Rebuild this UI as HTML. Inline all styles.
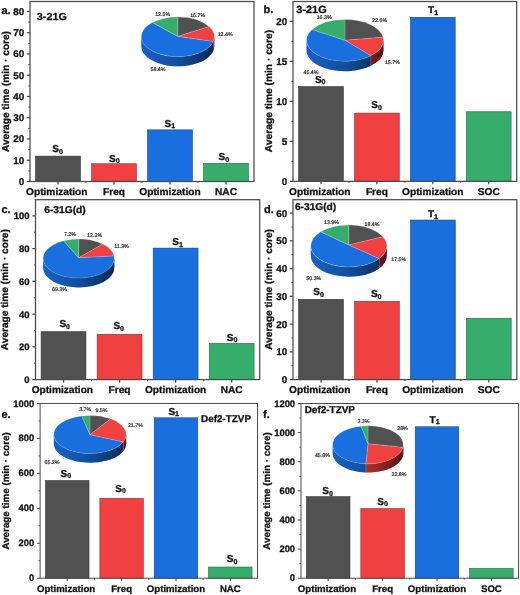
<!DOCTYPE html>
<html lang="en">
<head>
<meta charset="utf-8">
<title>Average time per basis set</title>
<style>
html,body{margin:0;padding:0;background:#ffffff;}
body{width:520px;height:595px;overflow:hidden;}
svg{display:block;font-family:'Liberation Sans', Arial, Helvetica, sans-serif;}
text{stroke-linejoin:round;text-rendering:geometricPrecision;}
.b{stroke:#111111;stroke-width:0.3px;}
</style>
</head>
<body>
<svg width="520" height="595" viewBox="0 0 520 595">
<rect x="0" y="0" width="520" height="595" fill="#ffffff"/>
<defs>
<linearGradient id="sga" gradientUnits="userSpaceOnUse" x1="141.3" y1="0" x2="214.3" y2="0"><stop offset="0" stop-color="#000" stop-opacity="0.12"/><stop offset="0.5" stop-color="#000" stop-opacity="0.3"/><stop offset="0.8" stop-color="#000" stop-opacity="0.5"/><stop offset="1" stop-color="#000" stop-opacity="0.66"/></linearGradient>
<linearGradient id="sgb" gradientUnits="userSpaceOnUse" x1="306.5" y1="0" x2="383.5" y2="0"><stop offset="0" stop-color="#000" stop-opacity="0.12"/><stop offset="0.5" stop-color="#000" stop-opacity="0.3"/><stop offset="0.8" stop-color="#000" stop-opacity="0.5"/><stop offset="1" stop-color="#000" stop-opacity="0.66"/></linearGradient>
<linearGradient id="sgc" gradientUnits="userSpaceOnUse" x1="43.1" y1="0" x2="114.3" y2="0"><stop offset="0" stop-color="#000" stop-opacity="0.12"/><stop offset="0.5" stop-color="#000" stop-opacity="0.3"/><stop offset="0.8" stop-color="#000" stop-opacity="0.5"/><stop offset="1" stop-color="#000" stop-opacity="0.66"/></linearGradient>
<linearGradient id="sgd" gradientUnits="userSpaceOnUse" x1="310.8" y1="0" x2="386.8" y2="0"><stop offset="0" stop-color="#000" stop-opacity="0.12"/><stop offset="0.5" stop-color="#000" stop-opacity="0.3"/><stop offset="0.8" stop-color="#000" stop-opacity="0.5"/><stop offset="1" stop-color="#000" stop-opacity="0.66"/></linearGradient>
<linearGradient id="sge" gradientUnits="userSpaceOnUse" x1="53.8" y1="0" x2="126.2" y2="0"><stop offset="0" stop-color="#000" stop-opacity="0.12"/><stop offset="0.5" stop-color="#000" stop-opacity="0.3"/><stop offset="0.8" stop-color="#000" stop-opacity="0.5"/><stop offset="1" stop-color="#000" stop-opacity="0.66"/></linearGradient>
<linearGradient id="sgf" gradientUnits="userSpaceOnUse" x1="332.6" y1="0" x2="403.4" y2="0"><stop offset="0" stop-color="#000" stop-opacity="0.12"/><stop offset="0.5" stop-color="#000" stop-opacity="0.3"/><stop offset="0.8" stop-color="#000" stop-opacity="0.5"/><stop offset="1" stop-color="#000" stop-opacity="0.66"/></linearGradient>
</defs>
<g>
<rect x="35.6" y="156.11" width="44.8" height="25.39" fill="#515151" stroke="#323232" stroke-width="0.6"/>
<rect x="91.6" y="163.76" width="44.8" height="17.74" fill="#F14040" stroke="#952727" stroke-width="0.6"/>
<rect x="147.6" y="129.86" width="44.8" height="51.64" fill="#1A6FDF" stroke="#10448a" stroke-width="0.6"/>
<rect x="203.6" y="163.33" width="44.8" height="18.17" fill="#37AD6B" stroke="#226b42" stroke-width="0.6"/>
<rect x="30" y="1.5" width="224" height="180" fill="none" stroke="#4a4a4a" stroke-width="1.25"/>
<line x1="26.8" y1="181.5" x2="30" y2="181.5" stroke="#4a4a4a" stroke-width="1.25"/>
<text class="b" x="24.1" y="184.9" font-size="9.7" font-weight="bold" text-anchor="end" fill="#111111" textLength="5.45" lengthAdjust="spacingAndGlyphs">0</text>
<line x1="26.8" y1="160.25" x2="30" y2="160.25" stroke="#4a4a4a" stroke-width="1.25"/>
<text class="b" x="24.1" y="163.65" font-size="9.7" font-weight="bold" text-anchor="end" fill="#111111" textLength="10.9" lengthAdjust="spacingAndGlyphs">10</text>
<line x1="26.8" y1="139" x2="30" y2="139" stroke="#4a4a4a" stroke-width="1.25"/>
<text class="b" x="24.1" y="142.4" font-size="9.7" font-weight="bold" text-anchor="end" fill="#111111" textLength="10.9" lengthAdjust="spacingAndGlyphs">20</text>
<line x1="26.8" y1="117.75" x2="30" y2="117.75" stroke="#4a4a4a" stroke-width="1.25"/>
<text class="b" x="24.1" y="121.15" font-size="9.7" font-weight="bold" text-anchor="end" fill="#111111" textLength="10.9" lengthAdjust="spacingAndGlyphs">30</text>
<line x1="26.8" y1="96.5" x2="30" y2="96.5" stroke="#4a4a4a" stroke-width="1.25"/>
<text class="b" x="24.1" y="99.9" font-size="9.7" font-weight="bold" text-anchor="end" fill="#111111" textLength="10.9" lengthAdjust="spacingAndGlyphs">40</text>
<line x1="26.8" y1="75.25" x2="30" y2="75.25" stroke="#4a4a4a" stroke-width="1.25"/>
<text class="b" x="24.1" y="78.65" font-size="9.7" font-weight="bold" text-anchor="end" fill="#111111" textLength="10.9" lengthAdjust="spacingAndGlyphs">50</text>
<line x1="26.8" y1="54" x2="30" y2="54" stroke="#4a4a4a" stroke-width="1.25"/>
<text class="b" x="24.1" y="57.4" font-size="9.7" font-weight="bold" text-anchor="end" fill="#111111" textLength="10.9" lengthAdjust="spacingAndGlyphs">60</text>
<line x1="26.8" y1="32.75" x2="30" y2="32.75" stroke="#4a4a4a" stroke-width="1.25"/>
<text class="b" x="24.1" y="36.15" font-size="9.7" font-weight="bold" text-anchor="end" fill="#111111" textLength="10.9" lengthAdjust="spacingAndGlyphs">70</text>
<line x1="26.8" y1="11.5" x2="30" y2="11.5" stroke="#4a4a4a" stroke-width="1.25"/>
<text class="b" x="24.1" y="14.9" font-size="9.7" font-weight="bold" text-anchor="end" fill="#111111" textLength="10.9" lengthAdjust="spacingAndGlyphs">80</text>
<line x1="28.3" y1="170.88" x2="30" y2="170.88" stroke="#4a4a4a" stroke-width="0.9"/>
<line x1="28.3" y1="149.62" x2="30" y2="149.62" stroke="#4a4a4a" stroke-width="0.9"/>
<line x1="28.3" y1="128.38" x2="30" y2="128.38" stroke="#4a4a4a" stroke-width="0.9"/>
<line x1="28.3" y1="107.12" x2="30" y2="107.12" stroke="#4a4a4a" stroke-width="0.9"/>
<line x1="28.3" y1="85.88" x2="30" y2="85.88" stroke="#4a4a4a" stroke-width="0.9"/>
<line x1="28.3" y1="64.62" x2="30" y2="64.62" stroke="#4a4a4a" stroke-width="0.9"/>
<line x1="28.3" y1="43.38" x2="30" y2="43.38" stroke="#4a4a4a" stroke-width="0.9"/>
<line x1="28.3" y1="22.12" x2="30" y2="22.12" stroke="#4a4a4a" stroke-width="0.9"/>
<line x1="58" y1="181.5" x2="58" y2="184.5" stroke="#4a4a4a" stroke-width="1.25"/>
<line x1="114" y1="181.5" x2="114" y2="184.5" stroke="#4a4a4a" stroke-width="1.25"/>
<line x1="170" y1="181.5" x2="170" y2="184.5" stroke="#4a4a4a" stroke-width="1.25"/>
<line x1="226" y1="181.5" x2="226" y2="184.5" stroke="#4a4a4a" stroke-width="1.25"/>
<line x1="86" y1="181.5" x2="86" y2="183.1" stroke="#4a4a4a" stroke-width="0.9"/>
<line x1="142" y1="181.5" x2="142" y2="183.1" stroke="#4a4a4a" stroke-width="0.9"/>
<line x1="198" y1="181.5" x2="198" y2="183.1" stroke="#4a4a4a" stroke-width="0.9"/>
<text class="b" x="56.8" y="195.3" font-size="9.9" font-weight="bold" text-anchor="middle" fill="#111111" textLength="61.39" lengthAdjust="spacingAndGlyphs">Optimization</text>
<text class="b" x="114" y="195.3" font-size="9.9" font-weight="bold" text-anchor="middle" fill="#111111" textLength="21.97" lengthAdjust="spacingAndGlyphs">Freq</text>
<text class="b" x="170" y="195.3" font-size="9.9" font-weight="bold" text-anchor="middle" fill="#111111" textLength="61.39" lengthAdjust="spacingAndGlyphs">Optimization</text>
<text class="b" x="226" y="195.3" font-size="9.9" font-weight="bold" text-anchor="middle" fill="#111111" textLength="21.96" lengthAdjust="spacingAndGlyphs">NAC</text>
<text class="b" transform="translate(8.5 91.5) rotate(-90)" font-size="10" font-weight="bold" text-anchor="middle" fill="#111111" textLength="121" lengthAdjust="spacingAndGlyphs">Average time (min · core)</text>
<text class="b" x="1.5" y="13.8" font-size="11" font-weight="bold" text-anchor="start" fill="#111111">a.</text>
<text class="b" x="36.8" y="19.5" font-size="10.2" font-weight="bold" text-anchor="start" fill="#111111" textLength="30.05" lengthAdjust="spacingAndGlyphs">3-21G</text>
<text class="b" x="57.5" y="152" font-size="10" font-weight="bold" text-anchor="middle" fill="#111111">S<tspan font-size="7" dy="1.6">0</tspan></text>
<text class="b" x="114.4" y="161.5" font-size="10" font-weight="bold" text-anchor="middle" fill="#111111">S<tspan font-size="7" dy="1.6">0</tspan></text>
<text class="b" x="169.8" y="126.5" font-size="10" font-weight="bold" text-anchor="middle" fill="#111111">S<tspan font-size="7" dy="1.6">1</tspan></text>
<text class="b" x="223.8" y="160" font-size="10" font-weight="bold" text-anchor="middle" fill="#111111">S<tspan font-size="7" dy="1.6">0</tspan></text>
<path d="M214.3 36.8 A36.5 19.9 0 0 1 213.27 41.49 L213.27 51.09 A36.5 19.9 0 0 0 214.3 46.4 Z" fill="#F14040"/>
<path d="M214.3 36.8 A36.5 19.9 0 0 1 213.27 41.49 L213.27 51.09 A36.5 19.9 0 0 0 214.3 46.4 Z" fill="url(#sga)"/>
<line x1="213.27" y1="41.49" x2="213.27" y2="51.09" stroke="#fff" stroke-opacity="0.25" stroke-width="0.4"/>
<path d="M213.27 41.49 A36.5 19.9 0 0 1 141.3 36.8 L141.3 46.4 A36.5 19.9 0 0 0 213.27 51.09 Z" fill="#1A6FDF"/>
<path d="M213.27 41.49 A36.5 19.9 0 0 1 141.3 36.8 L141.3 46.4 A36.5 19.9 0 0 0 213.27 51.09 Z" fill="url(#sga)"/>
<line x1="213.27" y1="41.49" x2="213.27" y2="51.09" stroke="#fff" stroke-opacity="0.25" stroke-width="0.4"/>
<path d="M177.8 36.4 L177.8 16.9 A36.5 19.9 0 0 1 209.13 26.59 Z" fill="#515151" stroke="#ffffff" stroke-opacity="0.38" stroke-width="0.45" stroke-linejoin="round"/>
<path d="M177.8 36.4 L209.13 26.59 A36.5 19.9 0 0 1 213.27 41.49 Z" fill="#F14040" stroke="#ffffff" stroke-opacity="0.38" stroke-width="0.45" stroke-linejoin="round"/>
<path d="M177.8 36.4 L213.27 41.49 A36.5 19.9 0 1 1 152.36 22.53 Z" fill="#1A6FDF" stroke="#ffffff" stroke-opacity="0.38" stroke-width="0.45" stroke-linejoin="round"/>
<path d="M177.8 36.4 L152.36 22.53 A36.5 19.9 0 0 1 177.8 16.9 Z" fill="#37AD6B" stroke="#ffffff" stroke-opacity="0.38" stroke-width="0.45" stroke-linejoin="round"/>
<text x="162.7" y="15.7" font-size="5.3" font-weight="normal" text-anchor="middle" fill="#222222" stroke="#222222" stroke-width="0.18">12.5%</text>
<text x="197.7" y="16.9" font-size="5.3" font-weight="normal" text-anchor="middle" fill="#222222" stroke="#222222" stroke-width="0.18">16.7%</text>
<text x="225.2" y="35.9" font-size="5.3" font-weight="normal" text-anchor="middle" fill="#222222" stroke="#222222" stroke-width="0.18">12.4%</text>
<text x="158" y="70.9" font-size="5.3" font-weight="normal" text-anchor="middle" fill="#222222" stroke="#222222" stroke-width="0.18">58.4%</text>
</g>
<g>
<rect x="298.59" y="86.63" width="44.74" height="94.72" fill="#515151" stroke="#323232" stroke-width="0.6"/>
<rect x="354.52" y="113.11" width="44.74" height="68.24" fill="#F14040" stroke="#952727" stroke-width="0.6"/>
<rect x="410.44" y="17.35" width="44.74" height="164" fill="#1A6FDF" stroke="#10448a" stroke-width="0.6"/>
<rect x="466.37" y="111.75" width="44.74" height="69.6" fill="#37AD6B" stroke="#226b42" stroke-width="0.6"/>
<rect x="293" y="1.5" width="223.7" height="179.85" fill="none" stroke="#4a4a4a" stroke-width="1.25"/>
<line x1="289.8" y1="181.35" x2="293" y2="181.35" stroke="#4a4a4a" stroke-width="1.25"/>
<text class="b" x="287.1" y="184.75" font-size="9.7" font-weight="bold" text-anchor="end" fill="#111111" textLength="5.45" lengthAdjust="spacingAndGlyphs">0</text>
<line x1="289.8" y1="141.35" x2="293" y2="141.35" stroke="#4a4a4a" stroke-width="1.25"/>
<text class="b" x="287.1" y="144.75" font-size="9.7" font-weight="bold" text-anchor="end" fill="#111111" textLength="5.45" lengthAdjust="spacingAndGlyphs">5</text>
<line x1="289.8" y1="101.35" x2="293" y2="101.35" stroke="#4a4a4a" stroke-width="1.25"/>
<text class="b" x="287.1" y="104.75" font-size="9.7" font-weight="bold" text-anchor="end" fill="#111111" textLength="10.9" lengthAdjust="spacingAndGlyphs">10</text>
<line x1="289.8" y1="61.35" x2="293" y2="61.35" stroke="#4a4a4a" stroke-width="1.25"/>
<text class="b" x="287.1" y="64.75" font-size="9.7" font-weight="bold" text-anchor="end" fill="#111111" textLength="10.9" lengthAdjust="spacingAndGlyphs">15</text>
<line x1="289.8" y1="21.35" x2="293" y2="21.35" stroke="#4a4a4a" stroke-width="1.25"/>
<text class="b" x="287.1" y="24.75" font-size="9.7" font-weight="bold" text-anchor="end" fill="#111111" textLength="10.9" lengthAdjust="spacingAndGlyphs">20</text>
<line x1="291.3" y1="161.35" x2="293" y2="161.35" stroke="#4a4a4a" stroke-width="0.9"/>
<line x1="291.3" y1="121.35" x2="293" y2="121.35" stroke="#4a4a4a" stroke-width="0.9"/>
<line x1="291.3" y1="81.35" x2="293" y2="81.35" stroke="#4a4a4a" stroke-width="0.9"/>
<line x1="291.3" y1="41.35" x2="293" y2="41.35" stroke="#4a4a4a" stroke-width="0.9"/>
<line x1="320.96" y1="181.35" x2="320.96" y2="184.35" stroke="#4a4a4a" stroke-width="1.25"/>
<line x1="376.89" y1="181.35" x2="376.89" y2="184.35" stroke="#4a4a4a" stroke-width="1.25"/>
<line x1="432.81" y1="181.35" x2="432.81" y2="184.35" stroke="#4a4a4a" stroke-width="1.25"/>
<line x1="488.74" y1="181.35" x2="488.74" y2="184.35" stroke="#4a4a4a" stroke-width="1.25"/>
<line x1="348.93" y1="181.35" x2="348.93" y2="182.95" stroke="#4a4a4a" stroke-width="0.9"/>
<line x1="404.85" y1="181.35" x2="404.85" y2="182.95" stroke="#4a4a4a" stroke-width="0.9"/>
<line x1="460.78" y1="181.35" x2="460.78" y2="182.95" stroke="#4a4a4a" stroke-width="0.9"/>
<text class="b" x="319.76" y="195.15" font-size="9.9" font-weight="bold" text-anchor="middle" fill="#111111" textLength="61.39" lengthAdjust="spacingAndGlyphs">Optimization</text>
<text class="b" x="376.89" y="195.15" font-size="9.9" font-weight="bold" text-anchor="middle" fill="#111111" textLength="21.97" lengthAdjust="spacingAndGlyphs">Freq</text>
<text class="b" x="432.81" y="195.15" font-size="9.9" font-weight="bold" text-anchor="middle" fill="#111111" textLength="61.39" lengthAdjust="spacingAndGlyphs">Optimization</text>
<text class="b" x="488.74" y="195.15" font-size="9.9" font-weight="bold" text-anchor="middle" fill="#111111" textLength="21.97" lengthAdjust="spacingAndGlyphs">SOC</text>
<text class="b" transform="translate(271.5 91) rotate(-90)" font-size="10" font-weight="bold" text-anchor="middle" fill="#111111" textLength="122.3" lengthAdjust="spacingAndGlyphs">Average time (min · core)</text>
<text class="b" x="263.5" y="13.3" font-size="11" font-weight="bold" text-anchor="start" fill="#111111">b.</text>
<text class="b" x="296.3" y="13.2" font-size="10.4" font-weight="bold" text-anchor="start" fill="#111111" textLength="30.35" lengthAdjust="spacingAndGlyphs">3-21G</text>
<text class="b" x="320.2" y="82.6" font-size="10" font-weight="bold" text-anchor="middle" fill="#111111">S<tspan font-size="7" dy="1.6">0</tspan></text>
<text class="b" x="376.6" y="108.3" font-size="10" font-weight="bold" text-anchor="middle" fill="#111111">S<tspan font-size="7" dy="1.6">0</tspan></text>
<text class="b" x="433.1" y="13" font-size="10" font-weight="bold" text-anchor="middle" fill="#111111">T<tspan font-size="7" dy="1.6">1</tspan></text>
<path d="M383.5 40.35 A38.5 20.85 0 0 1 370.82 55.82 L370.82 65.82 A38.5 20.85 0 0 0 383.5 50.35 Z" fill="#F14040"/>
<path d="M383.5 40.35 A38.5 20.85 0 0 1 370.82 55.82 L370.82 65.82 A38.5 20.85 0 0 0 383.5 50.35 Z" fill="url(#sgb)"/>
<line x1="370.82" y1="55.82" x2="370.82" y2="65.82" stroke="#fff" stroke-opacity="0.25" stroke-width="0.4"/>
<path d="M370.82 55.82 A38.5 20.85 0 0 1 306.5 40.35 L306.5 50.35 A38.5 20.85 0 0 0 370.82 65.82 Z" fill="#1A6FDF"/>
<path d="M370.82 55.82 A38.5 20.85 0 0 1 306.5 40.35 L306.5 50.35 A38.5 20.85 0 0 0 370.82 65.82 Z" fill="url(#sgb)"/>
<line x1="370.82" y1="55.82" x2="370.82" y2="65.82" stroke="#fff" stroke-opacity="0.25" stroke-width="0.4"/>
<path d="M345 40.35 L345 19.5 A38.5 20.85 0 0 1 383.06 37.22 Z" fill="#515151" stroke="#ffffff" stroke-opacity="0.38" stroke-width="0.45" stroke-linejoin="round"/>
<path d="M345 40.35 L383.06 37.22 A38.5 20.85 0 0 1 370.82 55.82 Z" fill="#F14040" stroke="#ffffff" stroke-opacity="0.38" stroke-width="0.45" stroke-linejoin="round"/>
<path d="M345 40.35 L370.82 55.82 A38.5 20.85 0 0 1 312.11 29.51 Z" fill="#1A6FDF" stroke="#ffffff" stroke-opacity="0.38" stroke-width="0.45" stroke-linejoin="round"/>
<path d="M345 40.35 L312.11 29.51 A38.5 20.85 0 0 1 345 19.5 Z" fill="#37AD6B" stroke="#ffffff" stroke-opacity="0.38" stroke-width="0.45" stroke-linejoin="round"/>
<text x="324.2" y="19.2" font-size="5.3" font-weight="normal" text-anchor="middle" fill="#222222" stroke="#222222" stroke-width="0.18">16.3%</text>
<text x="379.6" y="21.7" font-size="5.3" font-weight="normal" text-anchor="middle" fill="#222222" stroke="#222222" stroke-width="0.18">22.6%</text>
<text x="392.4" y="63.7" font-size="5.3" font-weight="normal" text-anchor="middle" fill="#222222" stroke="#222222" stroke-width="0.18">15.7%</text>
<text x="311" y="73.7" font-size="5.3" font-weight="normal" text-anchor="middle" fill="#222222" stroke="#222222" stroke-width="0.18">45.4%</text>
</g>
<g>
<rect x="41.1" y="331.7" width="44.84" height="47.9" fill="#515151" stroke="#323232" stroke-width="0.6"/>
<rect x="97.15" y="334.32" width="44.84" height="45.28" fill="#F14040" stroke="#952727" stroke-width="0.6"/>
<rect x="153.2" y="248.11" width="44.84" height="131.49" fill="#1A6FDF" stroke="#10448a" stroke-width="0.6"/>
<rect x="209.25" y="343.41" width="44.84" height="36.19" fill="#37AD6B" stroke="#226b42" stroke-width="0.6"/>
<rect x="35.5" y="199.7" width="224.2" height="179.9" fill="none" stroke="#4a4a4a" stroke-width="1.25"/>
<line x1="32.3" y1="379.6" x2="35.5" y2="379.6" stroke="#4a4a4a" stroke-width="1.25"/>
<text class="b" x="29.6" y="383" font-size="9.45" font-weight="bold" text-anchor="end" fill="#111111" textLength="5.31" lengthAdjust="spacingAndGlyphs">0</text>
<line x1="32.3" y1="346.85" x2="35.5" y2="346.85" stroke="#4a4a4a" stroke-width="1.25"/>
<text class="b" x="29.6" y="350.25" font-size="9.45" font-weight="bold" text-anchor="end" fill="#111111" textLength="10.62" lengthAdjust="spacingAndGlyphs">20</text>
<line x1="32.3" y1="314.1" x2="35.5" y2="314.1" stroke="#4a4a4a" stroke-width="1.25"/>
<text class="b" x="29.6" y="317.5" font-size="9.45" font-weight="bold" text-anchor="end" fill="#111111" textLength="10.62" lengthAdjust="spacingAndGlyphs">40</text>
<line x1="32.3" y1="281.35" x2="35.5" y2="281.35" stroke="#4a4a4a" stroke-width="1.25"/>
<text class="b" x="29.6" y="284.75" font-size="9.45" font-weight="bold" text-anchor="end" fill="#111111" textLength="10.62" lengthAdjust="spacingAndGlyphs">60</text>
<line x1="32.3" y1="248.6" x2="35.5" y2="248.6" stroke="#4a4a4a" stroke-width="1.25"/>
<text class="b" x="29.6" y="252" font-size="9.45" font-weight="bold" text-anchor="end" fill="#111111" textLength="10.62" lengthAdjust="spacingAndGlyphs">80</text>
<line x1="32.3" y1="215.85" x2="35.5" y2="215.85" stroke="#4a4a4a" stroke-width="1.25"/>
<text class="b" x="29.6" y="219.25" font-size="9.45" font-weight="bold" text-anchor="end" fill="#111111" textLength="15.93" lengthAdjust="spacingAndGlyphs">100</text>
<line x1="33.8" y1="363.23" x2="35.5" y2="363.23" stroke="#4a4a4a" stroke-width="0.9"/>
<line x1="33.8" y1="330.48" x2="35.5" y2="330.48" stroke="#4a4a4a" stroke-width="0.9"/>
<line x1="33.8" y1="297.73" x2="35.5" y2="297.73" stroke="#4a4a4a" stroke-width="0.9"/>
<line x1="33.8" y1="264.98" x2="35.5" y2="264.98" stroke="#4a4a4a" stroke-width="0.9"/>
<line x1="33.8" y1="232.23" x2="35.5" y2="232.23" stroke="#4a4a4a" stroke-width="0.9"/>
<line x1="63.52" y1="379.6" x2="63.52" y2="382.6" stroke="#4a4a4a" stroke-width="1.25"/>
<line x1="119.57" y1="379.6" x2="119.57" y2="382.6" stroke="#4a4a4a" stroke-width="1.25"/>
<line x1="175.62" y1="379.6" x2="175.62" y2="382.6" stroke="#4a4a4a" stroke-width="1.25"/>
<line x1="231.67" y1="379.6" x2="231.67" y2="382.6" stroke="#4a4a4a" stroke-width="1.25"/>
<line x1="91.55" y1="379.6" x2="91.55" y2="381.2" stroke="#4a4a4a" stroke-width="0.9"/>
<line x1="147.6" y1="379.6" x2="147.6" y2="381.2" stroke="#4a4a4a" stroke-width="0.9"/>
<line x1="203.65" y1="379.6" x2="203.65" y2="381.2" stroke="#4a4a4a" stroke-width="0.9"/>
<text class="b" x="62.32" y="393.2" font-size="9.9" font-weight="bold" text-anchor="middle" fill="#111111" textLength="61.39" lengthAdjust="spacingAndGlyphs">Optimization</text>
<text class="b" x="119.57" y="393.2" font-size="9.9" font-weight="bold" text-anchor="middle" fill="#111111" textLength="21.97" lengthAdjust="spacingAndGlyphs">Freq</text>
<text class="b" x="175.62" y="393.2" font-size="9.9" font-weight="bold" text-anchor="middle" fill="#111111" textLength="61.39" lengthAdjust="spacingAndGlyphs">Optimization</text>
<text class="b" x="231.67" y="393.2" font-size="9.9" font-weight="bold" text-anchor="middle" fill="#111111" textLength="21.96" lengthAdjust="spacingAndGlyphs">NAC</text>
<text class="b" transform="translate(8.4 289.65) rotate(-90)" font-size="10" font-weight="bold" text-anchor="middle" fill="#111111" textLength="121" lengthAdjust="spacingAndGlyphs">Average time (min · core)</text>
<text class="b" x="1.5" y="212.5" font-size="11" font-weight="bold" text-anchor="start" fill="#111111">c.</text>
<text class="b" x="44.2" y="213.2" font-size="9.9" font-weight="bold" text-anchor="start" fill="#111111" textLength="41.56" lengthAdjust="spacingAndGlyphs">6-31G(d)</text>
<text class="b" x="64.7" y="327.1" font-size="10" font-weight="bold" text-anchor="middle" fill="#111111">S<tspan font-size="7" dy="1.6">0</tspan></text>
<text class="b" x="118.7" y="328.9" font-size="10" font-weight="bold" text-anchor="middle" fill="#111111">S<tspan font-size="7" dy="1.6">0</tspan></text>
<text class="b" x="177.5" y="245" font-size="10" font-weight="bold" text-anchor="middle" fill="#111111">S<tspan font-size="7" dy="1.6">1</tspan></text>
<text class="b" x="232" y="340.5" font-size="10" font-weight="bold" text-anchor="middle" fill="#111111">S<tspan font-size="7" dy="1.6">0</tspan></text>
<path d="M114.3 258.5 A35.6 19.6 0 0 1 43.1 258.5 L43.1 267.8 A35.6 19.6 0 0 0 114.3 267.8 Z" fill="#1A6FDF"/>
<path d="M114.3 258.5 A35.6 19.6 0 0 1 43.1 258.5 L43.1 267.8 A35.6 19.6 0 0 0 114.3 267.8 Z" fill="url(#sgc)"/>
<path d="M78.7 257.8 L78.7 238.9 A35.6 19.6 0 0 1 102.75 244.05 Z" fill="#515151" stroke="#ffffff" stroke-opacity="0.38" stroke-width="0.45" stroke-linejoin="round"/>
<path d="M78.7 257.8 L102.75 244.05 A35.6 19.6 0 0 1 114 255.96 Z" fill="#F14040" stroke="#ffffff" stroke-opacity="0.38" stroke-width="0.45" stroke-linejoin="round"/>
<path d="M78.7 257.8 L114 255.96 A35.6 19.6 0 1 1 63.64 240.74 Z" fill="#1A6FDF" stroke="#ffffff" stroke-opacity="0.38" stroke-width="0.45" stroke-linejoin="round"/>
<path d="M78.7 257.8 L63.64 240.74 A35.6 19.6 0 0 1 78.7 238.9 Z" fill="#37AD6B" stroke="#ffffff" stroke-opacity="0.38" stroke-width="0.45" stroke-linejoin="round"/>
<text x="70" y="236.1" font-size="5.3" font-weight="normal" text-anchor="middle" fill="#222222" stroke="#222222" stroke-width="0.18">7.2%</text>
<text x="94.6" y="237.1" font-size="5.3" font-weight="normal" text-anchor="middle" fill="#222222" stroke="#222222" stroke-width="0.18">12.2%</text>
<text x="121.5" y="247.7" font-size="5.3" font-weight="normal" text-anchor="middle" fill="#222222" stroke="#222222" stroke-width="0.18">11.3%</text>
<text x="59.5" y="291.1" font-size="5.3" font-weight="normal" text-anchor="middle" fill="#222222" stroke="#222222" stroke-width="0.18">69.3%</text>
</g>
<g>
<rect x="298.6" y="299.4" width="44.76" height="80.2" fill="#515151" stroke="#323232" stroke-width="0.6"/>
<rect x="354.54" y="301.35" width="44.76" height="78.25" fill="#F14040" stroke="#952727" stroke-width="0.6"/>
<rect x="410.5" y="220.04" width="44.76" height="159.56" fill="#1A6FDF" stroke="#10448a" stroke-width="0.6"/>
<rect x="466.44" y="318.27" width="44.76" height="61.33" fill="#37AD6B" stroke="#226b42" stroke-width="0.6"/>
<rect x="293" y="199.7" width="223.8" height="179.9" fill="none" stroke="#4a4a4a" stroke-width="1.25"/>
<line x1="289.8" y1="379.6" x2="293" y2="379.6" stroke="#4a4a4a" stroke-width="1.25"/>
<text class="b" x="287.1" y="383" font-size="9.7" font-weight="bold" text-anchor="end" fill="#111111" textLength="5.45" lengthAdjust="spacingAndGlyphs">0</text>
<line x1="289.8" y1="351.85" x2="293" y2="351.85" stroke="#4a4a4a" stroke-width="1.25"/>
<text class="b" x="287.1" y="355.25" font-size="9.7" font-weight="bold" text-anchor="end" fill="#111111" textLength="10.9" lengthAdjust="spacingAndGlyphs">10</text>
<line x1="289.8" y1="324.1" x2="293" y2="324.1" stroke="#4a4a4a" stroke-width="1.25"/>
<text class="b" x="287.1" y="327.5" font-size="9.7" font-weight="bold" text-anchor="end" fill="#111111" textLength="10.9" lengthAdjust="spacingAndGlyphs">20</text>
<line x1="289.8" y1="296.35" x2="293" y2="296.35" stroke="#4a4a4a" stroke-width="1.25"/>
<text class="b" x="287.1" y="299.75" font-size="9.7" font-weight="bold" text-anchor="end" fill="#111111" textLength="10.9" lengthAdjust="spacingAndGlyphs">30</text>
<line x1="289.8" y1="268.6" x2="293" y2="268.6" stroke="#4a4a4a" stroke-width="1.25"/>
<text class="b" x="287.1" y="272" font-size="9.7" font-weight="bold" text-anchor="end" fill="#111111" textLength="10.9" lengthAdjust="spacingAndGlyphs">40</text>
<line x1="289.8" y1="240.85" x2="293" y2="240.85" stroke="#4a4a4a" stroke-width="1.25"/>
<text class="b" x="287.1" y="244.25" font-size="9.7" font-weight="bold" text-anchor="end" fill="#111111" textLength="10.9" lengthAdjust="spacingAndGlyphs">50</text>
<line x1="289.8" y1="213.1" x2="293" y2="213.1" stroke="#4a4a4a" stroke-width="1.25"/>
<text class="b" x="287.1" y="216.5" font-size="9.7" font-weight="bold" text-anchor="end" fill="#111111" textLength="10.9" lengthAdjust="spacingAndGlyphs">60</text>
<line x1="291.3" y1="365.73" x2="293" y2="365.73" stroke="#4a4a4a" stroke-width="0.9"/>
<line x1="291.3" y1="337.98" x2="293" y2="337.98" stroke="#4a4a4a" stroke-width="0.9"/>
<line x1="291.3" y1="310.23" x2="293" y2="310.23" stroke="#4a4a4a" stroke-width="0.9"/>
<line x1="291.3" y1="282.48" x2="293" y2="282.48" stroke="#4a4a4a" stroke-width="0.9"/>
<line x1="291.3" y1="254.73" x2="293" y2="254.73" stroke="#4a4a4a" stroke-width="0.9"/>
<line x1="291.3" y1="226.98" x2="293" y2="226.98" stroke="#4a4a4a" stroke-width="0.9"/>
<line x1="320.98" y1="379.6" x2="320.98" y2="382.6" stroke="#4a4a4a" stroke-width="1.25"/>
<line x1="376.92" y1="379.6" x2="376.92" y2="382.6" stroke="#4a4a4a" stroke-width="1.25"/>
<line x1="432.88" y1="379.6" x2="432.88" y2="382.6" stroke="#4a4a4a" stroke-width="1.25"/>
<line x1="488.82" y1="379.6" x2="488.82" y2="382.6" stroke="#4a4a4a" stroke-width="1.25"/>
<line x1="348.95" y1="379.6" x2="348.95" y2="381.2" stroke="#4a4a4a" stroke-width="0.9"/>
<line x1="404.9" y1="379.6" x2="404.9" y2="381.2" stroke="#4a4a4a" stroke-width="0.9"/>
<line x1="460.85" y1="379.6" x2="460.85" y2="381.2" stroke="#4a4a4a" stroke-width="0.9"/>
<text class="b" x="319.78" y="393.2" font-size="9.9" font-weight="bold" text-anchor="middle" fill="#111111" textLength="61.39" lengthAdjust="spacingAndGlyphs">Optimization</text>
<text class="b" x="376.92" y="393.2" font-size="9.9" font-weight="bold" text-anchor="middle" fill="#111111" textLength="21.97" lengthAdjust="spacingAndGlyphs">Freq</text>
<text class="b" x="432.88" y="393.2" font-size="9.9" font-weight="bold" text-anchor="middle" fill="#111111" textLength="61.39" lengthAdjust="spacingAndGlyphs">Optimization</text>
<text class="b" x="488.82" y="393.2" font-size="9.9" font-weight="bold" text-anchor="middle" fill="#111111" textLength="21.97" lengthAdjust="spacingAndGlyphs">SOC</text>
<text class="b" transform="translate(272 289.4) rotate(-90)" font-size="10" font-weight="bold" text-anchor="middle" fill="#111111" textLength="120.6" lengthAdjust="spacingAndGlyphs">Average time (min · core)</text>
<text class="b" x="264" y="213" font-size="11" font-weight="bold" text-anchor="start" fill="#111111">d.</text>
<text class="b" x="294.9" y="210.4" font-size="9.9" font-weight="bold" text-anchor="start" fill="#111111" textLength="41.36" lengthAdjust="spacingAndGlyphs">6-31G(d)</text>
<text class="b" x="318.5" y="295.3" font-size="10" font-weight="bold" text-anchor="middle" fill="#111111">S<tspan font-size="7" dy="1.6">0</tspan></text>
<text class="b" x="376.2" y="297.3" font-size="10" font-weight="bold" text-anchor="middle" fill="#111111">S<tspan font-size="7" dy="1.6">0</tspan></text>
<text class="b" x="433" y="217" font-size="10" font-weight="bold" text-anchor="middle" fill="#111111">T<tspan font-size="7" dy="1.6">1</tspan></text>
<path d="M386.8 246 A38 21 0 0 1 379.1 258.68 L379.1 268.38 A38 21 0 0 0 386.8 255.7 Z" fill="#F14040"/>
<path d="M386.8 246 A38 21 0 0 1 379.1 258.68 L379.1 268.38 A38 21 0 0 0 386.8 255.7 Z" fill="url(#sgd)"/>
<line x1="379.1" y1="258.68" x2="379.1" y2="268.38" stroke="#fff" stroke-opacity="0.25" stroke-width="0.4"/>
<path d="M379.1 258.68 A38 21 0 0 1 310.8 246 L310.8 255.7 A38 21 0 0 0 379.1 268.38 Z" fill="#1A6FDF"/>
<path d="M379.1 258.68 A38 21 0 0 1 310.8 246 L310.8 255.7 A38 21 0 0 0 379.1 268.38 Z" fill="url(#sgd)"/>
<line x1="379.1" y1="258.68" x2="379.1" y2="268.38" stroke="#fff" stroke-opacity="0.25" stroke-width="0.4"/>
<path d="M348.8 245 L348.8 225 A38 21 0 0 1 382.88 236.71 Z" fill="#515151" stroke="#ffffff" stroke-opacity="0.38" stroke-width="0.45" stroke-linejoin="round"/>
<path d="M348.8 245 L382.88 236.71 A38 21 0 0 1 379.1 258.68 Z" fill="#F14040" stroke="#ffffff" stroke-opacity="0.38" stroke-width="0.45" stroke-linejoin="round"/>
<path d="M348.8 245 L379.1 258.68 A38 21 0 1 1 320.74 231.84 Z" fill="#1A6FDF" stroke="#ffffff" stroke-opacity="0.38" stroke-width="0.45" stroke-linejoin="round"/>
<path d="M348.8 245 L320.74 231.84 A38 21 0 0 1 348.8 225 Z" fill="#37AD6B" stroke="#ffffff" stroke-opacity="0.38" stroke-width="0.45" stroke-linejoin="round"/>
<text x="331.5" y="224.2" font-size="5.3" font-weight="normal" text-anchor="middle" fill="#222222" stroke="#222222" stroke-width="0.18">13.9%</text>
<text x="372" y="225.6" font-size="5.3" font-weight="normal" text-anchor="middle" fill="#222222" stroke="#222222" stroke-width="0.18">18.4%</text>
<text x="398.75" y="261.4" font-size="5.3" font-weight="normal" text-anchor="middle" fill="#222222" stroke="#222222" stroke-width="0.18">17.5%</text>
<text x="313.8" y="279.6" font-size="5.3" font-weight="normal" text-anchor="middle" fill="#222222" stroke="#222222" stroke-width="0.18">50.3%</text>
</g>
<g>
<rect x="45.54" y="480.54" width="43.48" height="97.66" fill="#515151" stroke="#323232" stroke-width="0.6"/>
<rect x="99.88" y="498.36" width="43.48" height="79.84" fill="#F14040" stroke="#952727" stroke-width="0.6"/>
<rect x="154.23" y="417.83" width="43.48" height="160.37" fill="#1A6FDF" stroke="#10448a" stroke-width="0.6"/>
<rect x="208.58" y="567.02" width="43.48" height="11.18" fill="#37AD6B" stroke="#226b42" stroke-width="0.6"/>
<rect x="40.1" y="403.5" width="217.4" height="174.7" fill="none" stroke="#4a4a4a" stroke-width="1"/>
<line x1="36.9" y1="578.2" x2="40.1" y2="578.2" stroke="#4a4a4a" stroke-width="1"/>
<text class="b" x="34.2" y="581.2" font-size="9.3" font-weight="bold" text-anchor="end" fill="#111111" textLength="5.22" lengthAdjust="spacingAndGlyphs">0</text>
<line x1="36.9" y1="543.26" x2="40.1" y2="543.26" stroke="#4a4a4a" stroke-width="1"/>
<text class="b" x="34.2" y="546.26" font-size="9.3" font-weight="bold" text-anchor="end" fill="#111111" textLength="15.67" lengthAdjust="spacingAndGlyphs">200</text>
<line x1="36.9" y1="508.32" x2="40.1" y2="508.32" stroke="#4a4a4a" stroke-width="1"/>
<text class="b" x="34.2" y="511.32" font-size="9.3" font-weight="bold" text-anchor="end" fill="#111111" textLength="15.67" lengthAdjust="spacingAndGlyphs">400</text>
<line x1="36.9" y1="473.38" x2="40.1" y2="473.38" stroke="#4a4a4a" stroke-width="1"/>
<text class="b" x="34.2" y="476.38" font-size="9.3" font-weight="bold" text-anchor="end" fill="#111111" textLength="15.67" lengthAdjust="spacingAndGlyphs">600</text>
<line x1="36.9" y1="438.44" x2="40.1" y2="438.44" stroke="#4a4a4a" stroke-width="1"/>
<text class="b" x="34.2" y="441.44" font-size="9.3" font-weight="bold" text-anchor="end" fill="#111111" textLength="15.67" lengthAdjust="spacingAndGlyphs">800</text>
<line x1="36.9" y1="403.5" x2="40.1" y2="403.5" stroke="#4a4a4a" stroke-width="1"/>
<text class="b" x="34.2" y="406.5" font-size="9.3" font-weight="bold" text-anchor="end" fill="#111111" textLength="20.9" lengthAdjust="spacingAndGlyphs">1000</text>
<line x1="38.4" y1="560.73" x2="40.1" y2="560.73" stroke="#4a4a4a" stroke-width="0.9"/>
<line x1="38.4" y1="525.79" x2="40.1" y2="525.79" stroke="#4a4a4a" stroke-width="0.9"/>
<line x1="38.4" y1="490.85" x2="40.1" y2="490.85" stroke="#4a4a4a" stroke-width="0.9"/>
<line x1="38.4" y1="455.91" x2="40.1" y2="455.91" stroke="#4a4a4a" stroke-width="0.9"/>
<line x1="38.4" y1="420.97" x2="40.1" y2="420.97" stroke="#4a4a4a" stroke-width="0.9"/>
<line x1="67.28" y1="578.2" x2="67.28" y2="581.2" stroke="#4a4a4a" stroke-width="1"/>
<line x1="121.62" y1="578.2" x2="121.62" y2="581.2" stroke="#4a4a4a" stroke-width="1"/>
<line x1="175.97" y1="578.2" x2="175.97" y2="581.2" stroke="#4a4a4a" stroke-width="1"/>
<line x1="230.32" y1="578.2" x2="230.32" y2="581.2" stroke="#4a4a4a" stroke-width="1"/>
<line x1="94.45" y1="578.2" x2="94.45" y2="579.8" stroke="#4a4a4a" stroke-width="0.9"/>
<line x1="148.8" y1="578.2" x2="148.8" y2="579.8" stroke="#4a4a4a" stroke-width="0.9"/>
<line x1="203.15" y1="578.2" x2="203.15" y2="579.8" stroke="#4a4a4a" stroke-width="0.9"/>
<text class="b" x="66.08" y="591.5" font-size="9.5" font-weight="bold" text-anchor="middle" fill="#111111" textLength="58.27" lengthAdjust="spacingAndGlyphs">Optimization</text>
<text class="b" x="121.62" y="591.5" font-size="9.5" font-weight="bold" text-anchor="middle" fill="#111111" textLength="20.85" lengthAdjust="spacingAndGlyphs">Freq</text>
<text class="b" x="175.97" y="591.5" font-size="9.5" font-weight="bold" text-anchor="middle" fill="#111111" textLength="58.27" lengthAdjust="spacingAndGlyphs">Optimization</text>
<text class="b" x="230.32" y="591.5" font-size="9.5" font-weight="bold" text-anchor="middle" fill="#111111" textLength="20.85" lengthAdjust="spacingAndGlyphs">NAC</text>
<text class="b" transform="translate(8.6 490.9) rotate(-90)" font-size="9.7" font-weight="bold" text-anchor="middle" fill="#111111" textLength="117.3" lengthAdjust="spacingAndGlyphs">Average time (min · core)</text>
<text class="b" x="1.5" y="418" font-size="11" font-weight="bold" text-anchor="start" fill="#111111">e.</text>
<text class="b" x="201" y="421.7" font-size="9.9" font-weight="bold" text-anchor="start" fill="#111111" textLength="50.06" lengthAdjust="spacingAndGlyphs">Def2-TZVP</text>
<text class="b" x="65.8" y="476.7" font-size="10" font-weight="bold" text-anchor="middle" fill="#111111">S<tspan font-size="7" dy="1.6">0</tspan></text>
<text class="b" x="120.5" y="491.8" font-size="10" font-weight="bold" text-anchor="middle" fill="#111111">S<tspan font-size="7" dy="1.6">0</tspan></text>
<text class="b" x="173.7" y="414.5" font-size="10" font-weight="bold" text-anchor="middle" fill="#111111">S<tspan font-size="7" dy="1.6">1</tspan></text>
<text class="b" x="232" y="562.3" font-size="10" font-weight="bold" text-anchor="middle" fill="#111111">S<tspan font-size="7" dy="1.6">0</tspan></text>
<path d="M126.2 434.5 A36.2 19.05 0 0 1 123.28 441.99 L123.28 451.19 A36.2 19.05 0 0 0 126.2 443.7 Z" fill="#F14040"/>
<path d="M126.2 434.5 A36.2 19.05 0 0 1 123.28 441.99 L123.28 451.19 A36.2 19.05 0 0 0 126.2 443.7 Z" fill="url(#sge)"/>
<line x1="123.28" y1="441.99" x2="123.28" y2="451.19" stroke="#fff" stroke-opacity="0.25" stroke-width="0.4"/>
<path d="M123.28 441.99 A36.2 19.05 0 0 1 53.8 434.5 L53.8 443.7 A36.2 19.05 0 0 0 123.28 451.19 Z" fill="#1A6FDF"/>
<path d="M123.28 441.99 A36.2 19.05 0 0 1 53.8 434.5 L53.8 443.7 A36.2 19.05 0 0 0 123.28 451.19 Z" fill="url(#sge)"/>
<line x1="123.28" y1="441.99" x2="123.28" y2="451.19" stroke="#fff" stroke-opacity="0.25" stroke-width="0.4"/>
<path d="M90 434.8 L90 415.45 A36.2 19.05 0 0 1 110.61 418.84 Z" fill="#515151" stroke="#ffffff" stroke-opacity="0.38" stroke-width="0.45" stroke-linejoin="round"/>
<path d="M90 434.8 L110.61 418.84 A36.2 19.05 0 0 1 123.28 441.99 Z" fill="#F14040" stroke="#ffffff" stroke-opacity="0.38" stroke-width="0.45" stroke-linejoin="round"/>
<path d="M90 434.8 L123.28 441.99 A36.2 19.05 0 1 1 81.76 415.95 Z" fill="#1A6FDF" stroke="#ffffff" stroke-opacity="0.38" stroke-width="0.45" stroke-linejoin="round"/>
<path d="M90 434.8 L81.76 415.95 A36.2 19.05 0 0 1 90 415.45 Z" fill="#37AD6B" stroke="#ffffff" stroke-opacity="0.38" stroke-width="0.45" stroke-linejoin="round"/>
<text x="85.2" y="411.4" font-size="5.3" font-weight="normal" text-anchor="middle" fill="#222222" stroke="#222222" stroke-width="0.18">3.7%</text>
<text x="101.5" y="412.3" font-size="5.3" font-weight="normal" text-anchor="middle" fill="#222222" stroke="#222222" stroke-width="0.18">9.5%</text>
<text x="135.4" y="426.7" font-size="5.3" font-weight="normal" text-anchor="middle" fill="#222222" stroke="#222222" stroke-width="0.18">21.7%</text>
<text x="52" y="463.8" font-size="5.3" font-weight="normal" text-anchor="middle" fill="#222222" stroke="#222222" stroke-width="0.18">65.2%</text>
</g>
<g>
<rect x="306.44" y="496.68" width="43.52" height="81.52" fill="#515151" stroke="#323232" stroke-width="0.6"/>
<rect x="360.84" y="508.61" width="43.52" height="69.59" fill="#F14040" stroke="#952727" stroke-width="0.6"/>
<rect x="415.24" y="426.8" width="43.52" height="151.4" fill="#1A6FDF" stroke="#10448a" stroke-width="0.6"/>
<rect x="469.64" y="568.45" width="43.52" height="9.75" fill="#37AD6B" stroke="#226b42" stroke-width="0.6"/>
<rect x="301" y="403.5" width="217.6" height="174.7" fill="none" stroke="#4a4a4a" stroke-width="1"/>
<line x1="297.8" y1="578.2" x2="301" y2="578.2" stroke="#4a4a4a" stroke-width="1"/>
<text class="b" x="295.1" y="581.2" font-size="9.3" font-weight="bold" text-anchor="end" fill="#111111" textLength="5.22" lengthAdjust="spacingAndGlyphs">0</text>
<line x1="297.8" y1="549.08" x2="301" y2="549.08" stroke="#4a4a4a" stroke-width="1"/>
<text class="b" x="295.1" y="552.08" font-size="9.3" font-weight="bold" text-anchor="end" fill="#111111" textLength="15.67" lengthAdjust="spacingAndGlyphs">200</text>
<line x1="297.8" y1="519.97" x2="301" y2="519.97" stroke="#4a4a4a" stroke-width="1"/>
<text class="b" x="295.1" y="522.97" font-size="9.3" font-weight="bold" text-anchor="end" fill="#111111" textLength="15.67" lengthAdjust="spacingAndGlyphs">400</text>
<line x1="297.8" y1="490.85" x2="301" y2="490.85" stroke="#4a4a4a" stroke-width="1"/>
<text class="b" x="295.1" y="493.85" font-size="9.3" font-weight="bold" text-anchor="end" fill="#111111" textLength="15.67" lengthAdjust="spacingAndGlyphs">600</text>
<line x1="297.8" y1="461.74" x2="301" y2="461.74" stroke="#4a4a4a" stroke-width="1"/>
<text class="b" x="295.1" y="464.74" font-size="9.3" font-weight="bold" text-anchor="end" fill="#111111" textLength="15.67" lengthAdjust="spacingAndGlyphs">800</text>
<line x1="297.8" y1="432.62" x2="301" y2="432.62" stroke="#4a4a4a" stroke-width="1"/>
<text class="b" x="295.1" y="435.62" font-size="9.3" font-weight="bold" text-anchor="end" fill="#111111" textLength="20.9" lengthAdjust="spacingAndGlyphs">1000</text>
<line x1="297.8" y1="403.5" x2="301" y2="403.5" stroke="#4a4a4a" stroke-width="1"/>
<text class="b" x="295.1" y="406.5" font-size="9.3" font-weight="bold" text-anchor="end" fill="#111111" textLength="20.9" lengthAdjust="spacingAndGlyphs">1200</text>
<line x1="299.3" y1="563.64" x2="301" y2="563.64" stroke="#4a4a4a" stroke-width="0.9"/>
<line x1="299.3" y1="534.53" x2="301" y2="534.53" stroke="#4a4a4a" stroke-width="0.9"/>
<line x1="299.3" y1="505.41" x2="301" y2="505.41" stroke="#4a4a4a" stroke-width="0.9"/>
<line x1="299.3" y1="476.29" x2="301" y2="476.29" stroke="#4a4a4a" stroke-width="0.9"/>
<line x1="299.3" y1="447.18" x2="301" y2="447.18" stroke="#4a4a4a" stroke-width="0.9"/>
<line x1="299.3" y1="418.06" x2="301" y2="418.06" stroke="#4a4a4a" stroke-width="0.9"/>
<line x1="328.2" y1="578.2" x2="328.2" y2="581.2" stroke="#4a4a4a" stroke-width="1"/>
<line x1="382.6" y1="578.2" x2="382.6" y2="581.2" stroke="#4a4a4a" stroke-width="1"/>
<line x1="437" y1="578.2" x2="437" y2="581.2" stroke="#4a4a4a" stroke-width="1"/>
<line x1="491.4" y1="578.2" x2="491.4" y2="581.2" stroke="#4a4a4a" stroke-width="1"/>
<line x1="355.4" y1="578.2" x2="355.4" y2="579.8" stroke="#4a4a4a" stroke-width="0.9"/>
<line x1="409.8" y1="578.2" x2="409.8" y2="579.8" stroke="#4a4a4a" stroke-width="0.9"/>
<line x1="464.2" y1="578.2" x2="464.2" y2="579.8" stroke="#4a4a4a" stroke-width="0.9"/>
<text class="b" x="327" y="591.5" font-size="9.5" font-weight="bold" text-anchor="middle" fill="#111111" textLength="58.27" lengthAdjust="spacingAndGlyphs">Optimization</text>
<text class="b" x="382.6" y="591.5" font-size="9.5" font-weight="bold" text-anchor="middle" fill="#111111" textLength="20.85" lengthAdjust="spacingAndGlyphs">Freq</text>
<text class="b" x="437" y="591.5" font-size="9.5" font-weight="bold" text-anchor="middle" fill="#111111" textLength="58.27" lengthAdjust="spacingAndGlyphs">Optimization</text>
<text class="b" x="491.4" y="591.5" font-size="9.5" font-weight="bold" text-anchor="middle" fill="#111111" textLength="20.85" lengthAdjust="spacingAndGlyphs">SOC</text>
<text class="b" transform="translate(270 491) rotate(-90)" font-size="9.7" font-weight="bold" text-anchor="middle" fill="#111111" textLength="117.4" lengthAdjust="spacingAndGlyphs">Average time (min · core)</text>
<text class="b" x="263" y="417.5" font-size="11" font-weight="bold" text-anchor="start" fill="#111111">f.</text>
<text class="b" x="304.7" y="413.3" font-size="9.9" font-weight="bold" text-anchor="start" fill="#111111" textLength="50.31" lengthAdjust="spacingAndGlyphs">Def2-TZVP</text>
<text class="b" x="327.5" y="494" font-size="10" font-weight="bold" text-anchor="middle" fill="#111111">S<tspan font-size="7" dy="1.6">0</tspan></text>
<text class="b" x="382.5" y="504.5" font-size="10" font-weight="bold" text-anchor="middle" fill="#111111">S<tspan font-size="7" dy="1.6">0</tspan></text>
<text class="b" x="434.6" y="422.5" font-size="10" font-weight="bold" text-anchor="middle" fill="#111111">T<tspan font-size="7" dy="1.6">1</tspan></text>
<path d="M403.4 444.8 A35.4 19 0 0 1 403.06 447.41 L403.06 456.11 A35.4 19 0 0 0 403.4 453.5 Z" fill="#515151"/>
<path d="M403.4 444.8 A35.4 19 0 0 1 403.06 447.41 L403.06 456.11 A35.4 19 0 0 0 403.4 453.5 Z" fill="url(#sgf)"/>
<line x1="403.06" y1="447.41" x2="403.06" y2="456.11" stroke="#fff" stroke-opacity="0.25" stroke-width="0.4"/>
<path d="M403.06 447.41 A35.4 19 0 0 1 365.88 463.77 L365.88 472.47 A35.4 19 0 0 0 403.06 456.11 Z" fill="#F14040"/>
<path d="M403.06 447.41 A35.4 19 0 0 1 365.88 463.77 L365.88 472.47 A35.4 19 0 0 0 403.06 456.11 Z" fill="url(#sgf)"/>
<line x1="403.06" y1="447.41" x2="403.06" y2="456.11" stroke="#fff" stroke-opacity="0.25" stroke-width="0.4"/>
<line x1="365.88" y1="463.77" x2="365.88" y2="472.47" stroke="#fff" stroke-opacity="0.25" stroke-width="0.4"/>
<path d="M365.88 463.77 A35.4 19 0 0 1 332.6 444.8 L332.6 453.5 A35.4 19 0 0 0 365.88 472.47 Z" fill="#1A6FDF"/>
<path d="M365.88 463.77 A35.4 19 0 0 1 332.6 444.8 L332.6 453.5 A35.4 19 0 0 0 365.88 472.47 Z" fill="url(#sgf)"/>
<line x1="365.88" y1="463.77" x2="365.88" y2="472.47" stroke="#fff" stroke-opacity="0.25" stroke-width="0.4"/>
<path d="M368 443.7 L368 425.8 A35.4 19 0 0 1 403.06 447.41 Z" fill="#515151" stroke="#ffffff" stroke-opacity="0.38" stroke-width="0.45" stroke-linejoin="round"/>
<path d="M368 443.7 L403.06 447.41 A35.4 19 0 0 1 365.88 463.77 Z" fill="#F14040" stroke="#ffffff" stroke-opacity="0.38" stroke-width="0.45" stroke-linejoin="round"/>
<path d="M368 443.7 L365.88 463.77 A35.4 19 0 0 1 361.13 426.16 Z" fill="#1A6FDF" stroke="#ffffff" stroke-opacity="0.38" stroke-width="0.45" stroke-linejoin="round"/>
<path d="M368 443.7 L361.13 426.16 A35.4 19 0 0 1 368 425.8 Z" fill="#37AD6B" stroke="#ffffff" stroke-opacity="0.38" stroke-width="0.45" stroke-linejoin="round"/>
<text x="363.5" y="422.5" font-size="5.3" font-weight="normal" text-anchor="middle" fill="#222222" stroke="#222222" stroke-width="0.18">3.3%</text>
<text x="402.5" y="430.2" font-size="5.3" font-weight="normal" text-anchor="middle" fill="#222222" stroke="#222222" stroke-width="0.18">28%</text>
<text x="399" y="475.6" font-size="5.3" font-weight="normal" text-anchor="middle" fill="#222222" stroke="#222222" stroke-width="0.18">22.8%</text>
<text x="322.4" y="456.8" font-size="5.3" font-weight="normal" text-anchor="middle" fill="#222222" stroke="#222222" stroke-width="0.18">45.8%</text>
</g>
</svg>
</body>
</html>
